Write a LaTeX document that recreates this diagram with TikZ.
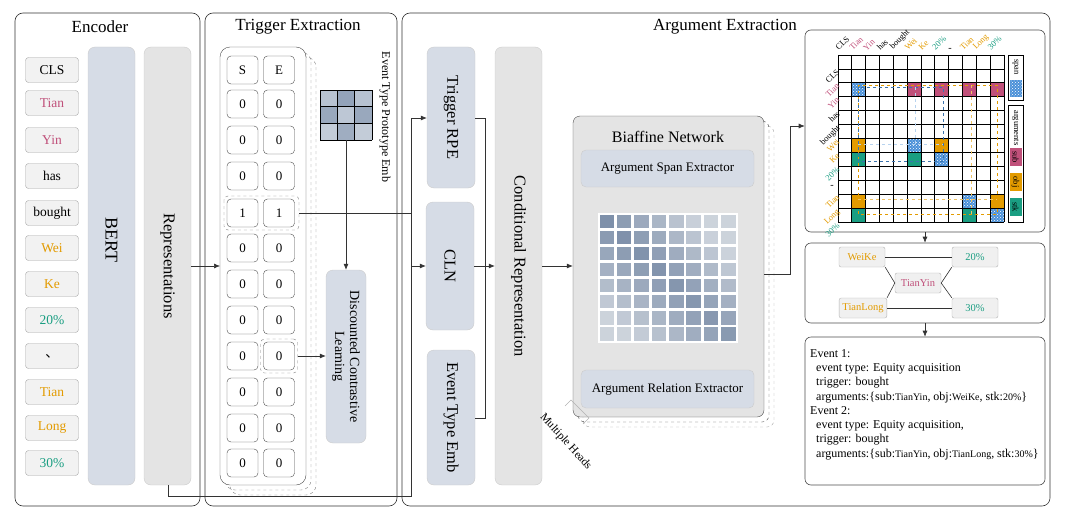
\documentclass[tikz,border=0pt]{standalone}
\usepackage{fontspec}
\setmainfont{Liberation Serif}
\newfontfamily\cjk{Noto Sans CJK SC}
\usetikzlibrary{arrows.meta,patterns,calc}
\definecolor{pinkc}{HTML}{C0507A}
\definecolor{orac}{HTML}{E39B00}
\definecolor{teac}{HTML}{1A9E82}
\definecolor{boxb}{HTML}{D6DCE6}
\definecolor{boxg}{HTML}{E4E4E4}
\definecolor{hmD}{HTML}{7E90AA}
\definecolor{hmL}{HTML}{D0D6DE}
\definecolor{spanb}{HTML}{4A90D8}
\definecolor{gridd}{HTML}{8799B2}
\tikzset{
  panel/.style={draw=black!80, rounded corners=8, line width=0.6pt},
  tok/.style={draw=gray!70, fill=gray!10, rounded corners=3, minimum width=53, minimum height=25, inner sep=0, font=\fontsize{13.5}{14}\selectfont},
  cell/.style={draw=black!70, rounded corners=4, minimum width=31, minimum height=28, inner sep=0, font=\fontsize{13}{14}\selectfont},
  bcol/.style={draw=gray!40, fill=boxb, rounded corners=7, inner sep=0},
  gcol/.style={draw=gray!40, fill=boxg, rounded corners=7, inner sep=0},
  rot/.style={rotate=-90, font=\fontsize{16.5}{18}\selectfont},
  ttl/.style={font=\fontsize{17}{19}\selectfont},
  arr/.style={-{Latex[length=6pt,width=5pt]}, draw=black!80, line width=0.6pt},
  ln/.style={draw=black!80, line width=0.6pt},
  gn/.style={draw=gray!60, fill=gray!12, rounded corners=2, minimum width=58, minimum height=20, font=\fontsize{10.5}{11}\selectfont},
  span/.style={fill=spanb, postaction={pattern=crosshatch dots, pattern color=white}},
  tiny/.style={font=\fontsize{8.5}{9}\selectfont, inner sep=0.5pt},
}
\begin{document}
\begin{tikzpicture}[x=1pt,y=-1pt]
\useasboundingbox (0,0) rectangle (1073,519);
% ===== Encoder =====
\draw[panel] (15,13) rectangle (200,506);
\node[ttl] at (100,27) {Encoder};
\foreach \t/\c/\y [count=\i] in {CLS/black/70,Tian/pinkc/103,Yin/pinkc/140,has/black/176,bought/black/213,Wei/orac/248,Ke/orac/284,20\%/teac/320,{\cjk 、}/black/356,Tian/orac/392,Long/orac/428,30\%/teac/463}
  \node[tok, text=\c] (tok\i) at (52,\y) {\t};
\node[bcol, minimum width=47, minimum height=438] (bert) at (111.5,266) {};
\node[rot, font=\fontsize{18}{20}\selectfont] at (111.5,240) {BERT};
\node[gcol, minimum width=47, minimum height=438] (rep) at (167.5,266) {};
\node[rot] at (167.5,266) {Representations};
% ===== Trigger Extraction =====
\draw[panel] (205,13) rectangle (397,506);
\node[ttl] at (298,27) {Trigger Extraction};
\draw[draw=gray, dashed, rounded corners=10] (230,57) rectangle (316,495);
\draw[draw=gray, dashed, rounded corners=10] (225,52) rectangle (311,490);
\draw[draw=black!70, fill=white, rounded corners=10] (220,47) rectangle (306,485);
\node[cell] (cS) at (242.5,70) {S};
\node[cell] (cE) at (279,70) {E};
\foreach \a/\b/\y [count=\i] in {0/0/104,0/0/140,0/0/176,1/1/213,0/0/248,0/0/284,0/0/320,0/0/356,0/0/392,0/0/428,0/0/463}{
  \node[cell] (s\i) at (242.5,\y) {\a};
  \node[cell] (e\i) at (279,\y) {\b};
}
\draw[gray, dashed, rounded corners=4] (224,196) rectangle (299,230);
\node[draw=gray, dashed, rounded corners=4, minimum width=37, minimum height=34] (eSel) at (279,356) {};
% prototype grid
\foreach \r in {0,1,2}\foreach \c in {0,1,2}{
  \pgfmathsetmacro\m{int(60+30*mod(\r+\c,2)-5*\r)}
  \fill[gridd!\m!white] (320+\c*17.33,90+\r*16.67) rectangle ++(17.33,16.67);}
\foreach \k in {0,...,3}{
  \draw[black, line width=0.8pt] (320+\k*17.33,90) -- ++(0,50);
  \draw[black, line width=0.8pt] (320,90+\k*16.67) -- ++(52,0);}
\coordinate (proto) at (346,140);
\node[rot, font=\fontsize{12}{13}\selectfont] at (385,117) {Event Type Prototype Emb};
\node[bcol, minimum width=40, minimum height=173] (dcl) at (346,356.5) {};
\node[rot, font=\fontsize{14}{15}\selectfont, align=center] at (346,356.5) {Discounted Contrastive\\Learning};
\draw[arr] (proto) -- (dcl.north);
\draw[arr] (eSel.east) -- (dcl.west |- eSel.east);
\draw[arr] (rep.east |- 0,266) -- (220,266);
% ===== Argument Extraction =====
\draw[panel] (402,13) rectangle (1050,506);
\node[ttl] at (725,27) {Argument Extraction};
\node[bcol, minimum width=48, minimum height=141] (rpe) at (451,117.5) {};
\node[rot] at (451,117.5) {Trigger RPE};
\node[bcol, minimum width=48, minimum height=128] (cln) at (450,266) {};
\node[rot] at (450,266) {CLN};
\node[bcol, minimum width=48, minimum height=135] (ete) at (451,417.5) {};
\node[rot] at (451,417.5) {Event Type Emb};
\node[gcol, minimum width=47, minimum height=438] (cr) at (518.5,266) {};
\node[rot] at (518.5,266) {Conditional Representation};
\coordinate (j1) at (411,213);
\draw[ln] (299,213) -- (j1);
\draw[ln] (168,485) -- (168,496) -- (411,496) -- (411,118);
\draw[arr] (411,118) -- (rpe.west |- 0,118);
\draw[arr] (411,266) -- (cln.west);
\draw[ln] (rpe.east |- 0,118) -- (485,118) -- (485,418) -- (ete.east |- 0,418);
\draw[arr] (cln.east) -- (cr.west |- cln.east);
% Biaffine
\draw[gray!70, dashed, rounded corners=7] (583,126) rectangle (774,427);
\draw[black!70, dashed, rounded corners=7] (578,121) rectangle (769,422);
\node[draw=black!70, fill=boxg, rounded corners=7, minimum width=191, minimum height=301, inner sep=0] (bia) at (668.5,266.5) {};
\node[font=\fontsize{16}{18}\selectfont] at (668,137) {Biaffine Network};
\node[bcol, rounded corners=5, minimum width=173, minimum height=37, font=\fontsize{13}{14}\selectfont] at (667.5,168.5) {Argument Span Extractor};
\node[bcol, rounded corners=5, minimum width=173, minimum height=38, font=\fontsize{13}{14}\selectfont] at (667.5,389) {Argument Relation Extractor};
\fill[white] (598,213) rectangle (738,343);
\foreach \r in {0,...,7}\foreach \c in {0,...,7}{
  \pgfmathsetmacro\v{max(5,100-16*abs(\r-\c)-2*\c)}
  \fill[hmD!\v!hmL] (599.5+\c*17.35,214.5+\r*16.1) rectangle ++(14.6,13.4);}
\draw[arr] (cr.east |- 0,266) -- (bia.west |- 0,266);
\draw[gray!60] (565,406) -- (571,400) -- (589,418) -- (583,424);
\node[rotate=-48, font=\fontsize{11.5}{12}\selectfont, anchor=north west] at (546,407) {Multiple Heads};
% Grid box
\node[panel, draw=black!70, rounded corners=6, minimum width=240, minimum height=202, inner sep=0] (gbox) at (925,131) {};
\def\cw{13.83}\def\ch{13.92}
\foreach \r/\c/\s in {2/1/S,2/5/P,2/7/P,2/9/P,2/11/P,6/1/O,6/5/S,6/7/O,7/1/T,7/5/T,7/7/S,10/1/O,10/9/S,10/11/O,11/1/T,11/9/T,11/11/S}{
  \if\s S \path[span] (838+\c*\cw,55+\r*\ch) rectangle ++(\cw,\ch);\fi
  \if\s P \fill[pinkc] (838+\c*\cw,55+\r*\ch) rectangle ++(\cw,\ch);\fi
  \if\s O \fill[orac] (838+\c*\cw,55+\r*\ch) rectangle ++(\cw,\ch);\fi
  \if\s T \fill[teac] (838+\c*\cw,55+\r*\ch) rectangle ++(\cw,\ch);\fi
}
\foreach \k in {0,...,12}{
  \draw[black, line width=0.7pt] (838+\k*\cw,55) -- (838+\k*\cw,222);
  \draw[black, line width=0.7pt] (838,55+\k*\ch) -- (1004,55+\k*\ch);}
\draw[orac, dashed, line width=0.7pt] (858,85) rectangle (997,214);
\draw[orac!60, dashed, line width=0.7pt] (971,85) -- (971,214) (858,199) -- (997,199);
\draw[spanb!80!black, dashed, line width=0.7pt] (858,87) rectangle (943,161);
\draw[spanb!40, dashed, line width=0.7pt] (858,144) -- (943,144) (915,87) -- (915,144);
\foreach \t/\c [count=\i from 0] in {CLS/black,Tian/pinkc,Yin/pinkc,has/black,bought/black,Wei/orac,Ke/orac,20\%/teac,{\cjk 、}/black,Tian/orac,Long/orac,30\%/teac}{
  \node[tiny, rotate=45, anchor=south west, text=\c] at (838+\i*\cw+1,52) {\t};
  \node[tiny, rotate=45, anchor=north east, text=\c] at (836,55+\i*\ch+\ch-1) {\t};
}
\draw[black, line width=0.7pt] (1008,55) rectangle (1023,100);
\node[tiny, rotate=-90] at (1015.5,67) {span};
\path[span] (1009.5,80) rectangle (1021.5,97);
\draw[black, line width=0.7pt] (1008,105) rectangle (1023,222);
\node[tiny, rotate=-90] at (1015.5,128) {arguments};
\fill[pinkc] (1009.5,148) rectangle (1021.5,166);
\node[tiny, rotate=-90] at (1015.5,157) {sub};
\fill[orac] (1009.5,173) rectangle (1021.5,191);
\node[tiny, rotate=-90] at (1015.5,182) {obj};
\fill[teac] (1009.5,198) rectangle (1021.5,216);
\node[tiny, rotate=-90] at (1015.5,207) {stk};
\draw[ln] (bia.east |- 0,274) -- (790,274) -- (790,126);
\draw[arr] (790,126) -- (gbox.west |- 0,126);
% Graph box
\node[panel, draw=black!70, rounded corners=6, minimum width=240, minimum height=80, inner sep=0] (grbox) at (925,283) {};
\draw[arr] (gbox.south) -- (grbox.north);
\node[gn, text=orac, minimum width=46] (wk) at (862,257) {WeiKe};
\node[gn, text=teac, minimum width=46] (p20) at (975,257) {20\%};
\node[gn, text=pinkc, minimum width=46] (ty) at (918,283) {TianYin};
\node[gn, text=orac, minimum width=46] (tl) at (863,308) {TianLong};
\node[gn, text=teac, minimum width=46] (p30) at (975,308) {30\%};
\draw[ln] (wk) -- (p20) (tl) -- (p30);
\draw[ln] (wk.south east) -- (ty.west);
\draw[ln] (tl.north east) -- (ty.west);
\draw[ln] (p20.south west) -- (ty.east);
\draw[ln] (p30.north west) -- (ty.east);
% Event box
\node[panel, draw=black!70, rounded corners=6, minimum width=240, minimum height=148, inner sep=0] (ebox) at (925,411) {};
\draw[arr] (grbox.south) -- (ebox.north);
\node[anchor=north west, align=left, font=\fontsize{12}{14.3}\selectfont, inner sep=0] at (810,349) {Event 1:\\
\ \ event type: Equity acquisition\\
\ \ trigger: bought\\
\ \ arguments:\{sub:{\fontsize{10}{11}\selectfont TianYin}, obj:{\fontsize{10}{11}\selectfont WeiKe}, stk:{\fontsize{10}{11}\selectfont 20\%}\}\\
Event 2:\\
\ \ event type: Equity acquisition,\\
\ \ trigger: bought\\
\ \ arguments:\{sub:{\fontsize{10}{11}\selectfont TianYin}, obj:{\fontsize{10}{11}\selectfont TianLong}, stk:{\fontsize{10}{11}\selectfont 30\%}\}};
\end{tikzpicture}
\end{document}
